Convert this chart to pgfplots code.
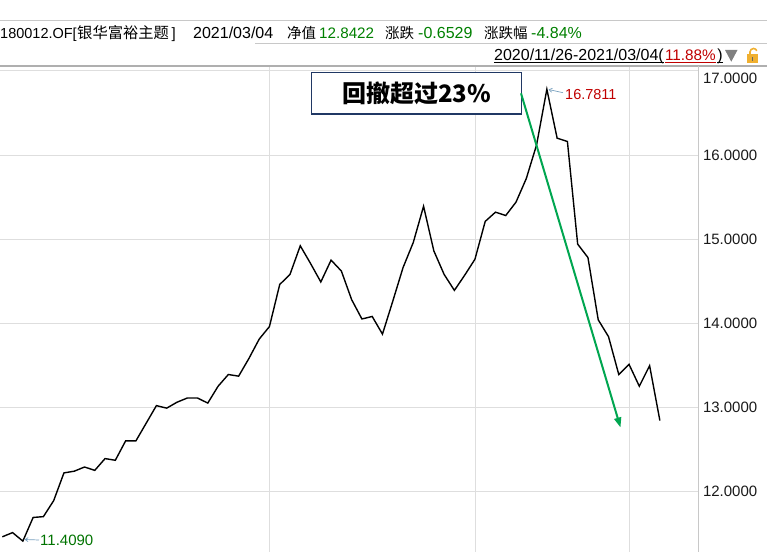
\documentclass[border=0pt]{standalone}
\usepackage{pgfplots}
\pgfplotsset{compat=1.18}
\usetikzlibrary{arrows.meta}
\usepackage{fontspec}
\setmainfont{Liberation Sans}
\newfontfamily\cjk{Noto Sans CJK SC}
\definecolor{gridc}{RGB}{222,222,222}
\definecolor{sepc}{RGB}{200,200,200}
\definecolor{sepd}{RGB}{175,175,175}
\definecolor{upgreen}{RGB}{0,128,0}
\definecolor{mingreen}{RGB}{0,115,0}
\definecolor{dnred}{RGB}{192,0,0}
\definecolor{arrowgreen}{RGB}{0,166,80}
\definecolor{boxnavy}{RGB}{32,56,100}
\definecolor{pinblue}{RGB}{120,160,190}
\definecolor{lockc}{RGB}{240,176,48}
\definecolor{tri}{RGB}{128,128,128}
\begin{document}
\begin{tikzpicture}[x=1pt,y=1pt]
\useasboundingbox (0,0) rectangle (767,559);
\begin{axis}[
  at={(0pt,7.3pt)}, anchor=south west,
  scale only axis, width=698.3pt, height=484.7pt,
  xmin=-0.224, xmax=67.74, ymin=11.283, ymax=17.046,
  axis line style={draw=none},
  xtick={26,46,61}, xticklabels={,,},
  ytick={12,13,14,15,16},
  yticklabels={12.0000,13.0000,14.0000,15.0000,16.0000},
  extra y ticks={17}, extra y tick labels={17.0000},
  extra y tick style={grid=major, yticklabel style={yshift=-7pt}},
  yticklabel pos=right,
  yticklabel style={anchor=west, inner sep=0pt, xshift=4.5pt, font=\fontsize{15}{15}\selectfont, text=black!90},
  major tick length=0pt,
  grid=major, major grid style={gridc, line width=0.8pt},
]
\addplot[black, line width=1.4pt, mark=none] coordinates {
(0,11.46) (1,11.51) (2,11.409) (3,11.69) (4,11.70) (5,11.89) (6,12.22) (7,12.24)
(8,12.29) (9,12.25) (10,12.39) (11,12.37) (12,12.60) (13,12.60) (14,12.81) (15,13.02)
(16,12.99) (17,13.06) (18,13.11) (19,13.11) (20,13.05) (21,13.25) (22,13.39) (23,13.37)
(24,13.58) (25,13.81) (26,13.96) (27,14.46) (28,14.58) (29,14.92) (30,14.71) (31,14.49)
(32,14.75) (33,14.62) (34,14.28) (35,14.05) (36,14.08) (37,13.87) (38,14.26) (39,14.66)
(40,14.96) (41,15.39) (42,14.86) (43,14.58) (44,14.39) (45,14.57) (46,14.76) (47,15.21)
(48,15.32) (49,15.28) (50,15.44) (51,15.72) (52,16.12) (53,16.7811) (54,16.20) (55,16.16)
(56,14.94) (57,14.78) (58,14.04) (59,13.84) (60,13.39) (61,13.51) (62,13.25) (63,13.4951)
(64,12.8422)
};
\end{axis}
% frame lines
\draw[sepc, line width=0.8] (0,538.3) -- (767,538.3);
\draw[sepc, line width=0.8] (255,515.7) -- (767,515.7);
\draw[sepd, line width=1.4] (0,493) -- (767,493);
\draw[sepc, line width=0.9] (698.3,7.3) -- (698.3,493);
% header row 1
\node[anchor=base west, inner sep=0] at (0,520) {\fontsize{14.5}{15}\selectfont 180012.OF[};
\node[anchor=base west, inner sep=0] at (77,520) {\cjk\fontsize{15.3}{16}\selectfont 银华富裕主题};
\node[anchor=base west, inner sep=0] at (171.5,520) {\fontsize{15}{15}\selectfont ]};
\node[anchor=base west, inner sep=0] at (193,520) {\fontsize{16}{16}\selectfont 2021/03/04};
\node[anchor=base west, inner sep=0] at (287,520) {\cjk\fontsize{14.5}{16}\selectfont 净值};
\node[anchor=base west, inner sep=0, text=upgreen] at (319,520) {\fontsize{15.2}{16}\selectfont 12.8422};
\node[anchor=base west, inner sep=0] at (385,520) {\cjk\fontsize{14.5}{16}\selectfont 涨跌};
\node[anchor=base west, inner sep=0, text=upgreen] at (418,520) {\fontsize{16}{16}\selectfont -0.6529};
\node[anchor=base west, inner sep=0] at (484,520) {\cjk\fontsize{14.5}{16}\selectfont 涨跌幅};
\node[anchor=base west, inner sep=0, text=upgreen] at (531,520) {\fontsize{16}{16}\selectfont -4.84\%};
% header row 2
\node[anchor=base east, inner sep=0] (A) at (664,498) {\fontsize{16}{16}\selectfont 2020/11/26-2021/03/04(};
\node[anchor=base west, inner sep=0, text=dnred] (B) at (664.8,498) {\fontsize{15.3}{16}\selectfont 11.88\%};
\node[anchor=base west, inner sep=0] (C) at (717.2,498) {\fontsize{16}{16}\selectfont )};
\draw[black, line width=0.8] ([yshift=-1.8pt]A.base west) -- ([yshift=-1.8pt]A.base east);
\draw[dnred, line width=0.8] ([yshift=-1.8pt]B.base west) -- ([yshift=-1.8pt]B.base east);
\draw[black, line width=0.8] ([yshift=-1.8pt]C.base west) -- ([yshift=-1.8pt]C.base east);
\fill[tri] (725,509) -- (737.5,509) -- (731.25,497.3) -- cycle;
\fill[lockc] (747,495.7) rectangle (757.5,504.5);
\draw[lockc, line width=1.6] (750,504.5) -- (750,507) arc (180:20:3.5);
\fill[black!60] (751.6,498) rectangle (752.9,502);
% annotation box and arrow
\node[draw=boxnavy, line width=1.2, fill=white, minimum width=210pt, minimum height=41.3pt, inner sep=0] at (416.7,465.65) {\cjk\bfseries\fontsize{24}{24}\selectfont 回撤超过23\%};
\draw[arrowgreen, line width=2, -{Triangle[length=10pt,width=7pt]}] (521,465.7) -- (620.5,131.5);
% peak and min pointers
\draw[pinblue, line width=0.7, -{Straight Barb[length=3pt,width=4pt]}] (563,466.3) -- (548.5,469.5);
\node[anchor=west, inner sep=0, text=dnred] at (565,464) {\fontsize{14.5}{15}\selectfont 16.7811};
\draw[pinblue, line width=0.7, -{Straight Barb[length=3pt,width=4pt]}] (39,19) -- (24.5,19.5);
\node[anchor=west, inner sep=0, text=mingreen] at (40,19) {\fontsize{15}{15}\selectfont 11.4090};
\end{tikzpicture}
\end{document}
